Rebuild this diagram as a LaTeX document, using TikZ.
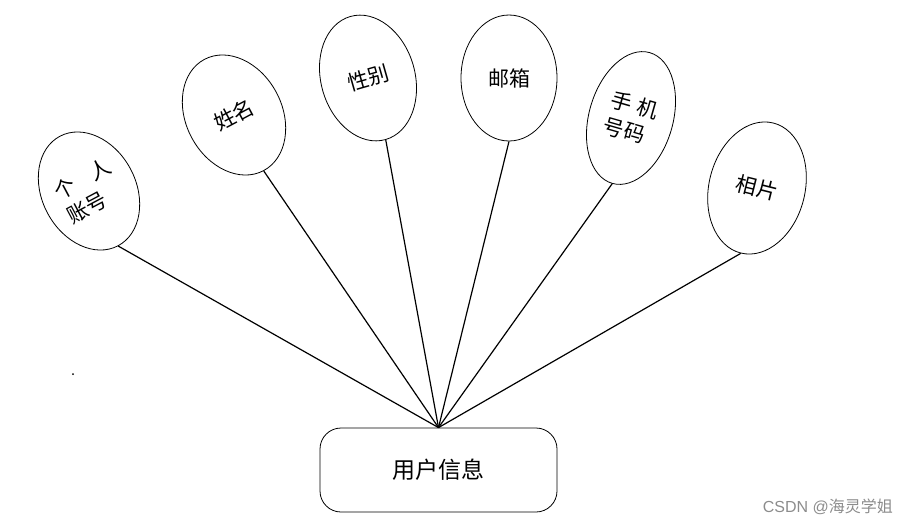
\documentclass[tikz,border=0pt]{standalone}
\usepackage{fontspec}
\setmainfont{Liberation Sans}
\newfontfamily\cjk{Noto Sans CJK SC}
\usetikzlibrary{shapes.geometric}
\tikzset{
  attr/.style={draw=black, line width=0.8pt, ellipse, inner sep=0pt, align=left,
    font=\cjk\fontsize{21}{27}\selectfont},
  entity/.style={draw=black, line width=0.8pt, rounded corners=21pt, minimum width=237pt,
    minimum height=84pt, inner sep=0pt, font=\cjk\fontsize{23}{27}\selectfont},
  link/.style={line width=1.2pt, black}
}
\begin{document}
\begin{tikzpicture}[x=1pt,y=-1pt]
\useasboundingbox (0,0) rectangle (908,525);
\node[entity] (user) at (438.5,470) {用户信息};
\node[attr, rotate=28, minimum width=94pt, minimum height=124pt] (e1) at (89,191) {个\hspace{0.9em}人\\账号};
\node[attr, rotate=28, minimum width=96pt, minimum height=126pt] (e2) at (234,115) {姓名};
\node[attr, rotate=16, minimum width=94pt, minimum height=128pt] (e3) at (368,78) {性别};
\node[attr, rotate=0, minimum width=96pt, minimum height=126pt] (e4) at (509,78) {邮箱};
\node[attr, rotate=-16, minimum width=84pt, minimum height=136pt] (e5) at (631,118) {手\hspace{0.3em}机\\号码};
\node[attr, rotate=-14, minimum width=96pt, minimum height=134pt] (e6) at (757,188) {相片};
\foreach \e in {e1,e2,e3,e4,e5,e6}{
  \draw[link] (user.north) -- (\e.south);
}
\fill[black] (73,374) circle (1pt);
\node[anchor=east, text=black!45, inner sep=0pt, font=\fontsize{16}{18}\selectfont] (wm) at (893,507) {CSDN @{\cjk 海灵学姐}};
\end{tikzpicture}
\end{document}
